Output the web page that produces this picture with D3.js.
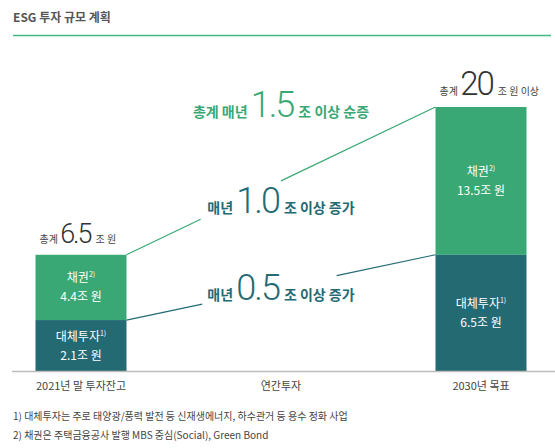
<!DOCTYPE html>
<html>
<head>
  <meta charset="utf-8">
  <script src="https://cdn.jsdelivr.net/npm/d3@7"></script>
  <style type="text/css">
    body { margin: 0; background: #fff; }
    svg text { font-family: "Noto Sans CJK KR", "Noto Sans", sans-serif; }
    .num { font-family: Roboto, "Noto Sans", sans-serif; font-weight: 300; letter-spacing: -2px; }
  </style>
</head>
<body>
  <div id="chartArea"></div>
  <script type="text/javascript">
    // categories and values
    let periods = ['2021년 말 투자잔고', '연간투자', '2030년 목표'];
    let barPeriods = ['2021년 말 투자잔고', '2030년 목표'];
    let altValues = [2.1, 6.5];     // 대체투자
    let bondValues = [4.4, 13.5];   // 채권
    let totals = ['6.5', '20'];
    let totalUnits = ['조 원', '조 원 이상'];
    let annualTotal = '1.5';
    let annualBond = '1.0';
    let annualAlt = '0.5';
    let footnotes = [
      '1) 대체투자는 주로 태양광/풍력 발전 등 신재생에너지, 하수관거 등 용수 정화 사업',
      '2) 채권은 주택금융공사 발행 MBS 중심(Social), Green Bond'
    ];

    let green = '#3aa874';
    let teal = '#246a73';

    let W = 555, H = 448;
    let svg = d3.select('#chartArea').append('svg')
      .attr('width', W)
      .attr('height', H);

    // title
    svg.append('text')
      .attr('x', 13).attr('y', 22)
      .attr('font-size', 12).attr('font-weight', 700)
      .attr('fill', '#555')
      .text('ESG 투자 규모 계획');
    svg.append('line')
      .attr('x1', 13).attr('x2', 551)
      .attr('y1', 35.5).attr('y2', 35.5)
      .attr('stroke', '#3dbb80').attr('stroke-width', 1.6);

    let x = d3.scalePoint()
      .domain(periods)
      .range([81, 481]);

    // bars in the source are not to linear scale
    let y = d3.scalePow().exponent(0.73)
      .domain([0, 20])
      .range([371, 107]);

    let barW = 91;

    let stacks = barPeriods.map((p, i) => {
      return {
        period: p,
        alt: altValues[i],
        bond: bondValues[i],
        total: totals[i],
        unit: totalUnits[i]
      };
    });

    // bond (top) segments
    svg.selectAll('.bond')
      .data(stacks)
      .enter()
      .append('rect')
      .attr('class', 'bond')
      .attr('x', d => x(d.period) - barW / 2)
      .attr('width', barW)
      .attr('y', d => y(d.alt + d.bond))
      .attr('height', d => y(d.alt) - y(d.alt + d.bond))
      .attr('fill', green);

    // alternative investment (bottom) segments
    svg.selectAll('.alt')
      .data(stacks)
      .enter()
      .append('rect')
      .attr('class', 'alt')
      .attr('x', d => x(d.period) - barW / 2)
      .attr('width', barW)
      .attr('y', d => y(d.alt))
      .attr('height', d => y(0) - y(d.alt))
      .attr('fill', teal);

    // baseline
    svg.append('line')
      .attr('x1', 12).attr('x2', W)
      .attr('y1', y(0) + 0.5).attr('y2', y(0) + 0.5)
      .attr('stroke', '#bdbdbd').attr('stroke-width', 1.5);

    // segment labels
    function segLabel(g, name, val, cy) {
      let t = g.append('text')
        .attr('text-anchor', 'middle')
        .attr('fill', '#fff')
        .attr('font-size', 12);
      t.append('tspan').attr('x', 0).attr('y', cy - 5).text(name[0])
        .append('tspan').attr('dy', -5).attr('font-size', 7).text(name[1]);
      t.append('tspan').attr('x', 0).attr('y', cy + 14).text(val + '조 원');
    }
    stacks.forEach(d => {
      let g = svg.append('g').attr('transform', `translate(${x(d.period)},0)`);
      segLabel(g, ['채권', '2)'], d.bond, (y(d.alt + d.bond) + y(d.alt)) / 2);
      segLabel(g, ['대체투자', '1)'], d.alt, (y(d.alt) + y(0)) / 2);
    });

    // totals above bars
    let big = [27, 33];
    stacks.forEach((d, i) => {
      let t = svg.append('text')
        .attr('x', x(d.period) - barW / 2 + 4)
        .attr('y', y(d.alt + d.bond) - 12)
        .attr('fill', '#444');
      t.append('tspan').attr('font-size', 10).text('총계 ');
      t.append('tspan').attr('class', 'num').attr('font-size', big[i])
        .attr('fill', '#333').text(d.total);
      t.append('tspan').attr('font-size', 10).attr('dx', 5).text(d.unit.replace(' ', '  '));
    });

    // x labels
    svg.selectAll('.xlab')
      .data(periods)
      .enter()
      .append('text')
      .attr('class', 'xlab')
      .attr('x', d => x(d))
      .attr('y', 390)
      .attr('text-anchor', 'middle')
      .attr('font-size', 11)
      .attr('fill', '#444')
      .text(d => d);

    // connector lines (with gaps for annotations)
    function connector(v0, v1, gaps, color) {
      let x0 = x(barPeriods[0]) + barW / 2, y0 = y(v0);
      let x1 = x(barPeriods[1]) - barW / 2, y1 = y(v1);
      let pt = t => [x0 + (x1 - x0) * t, y0 + (y1 - y0) * t];
      let pieces = [[0, gaps[0]], [gaps[1], 1]];
      svg.selectAll(null)
        .data(pieces)
        .enter()
        .append('line')
        .attr('x1', d => pt(d[0])[0]).attr('y1', d => pt(d[0])[1])
        .attr('x2', d => pt(d[1])[0]).attr('y2', d => pt(d[1])[1])
        .attr('stroke', color).attr('stroke-width', 1.2);
    }
    connector(altValues[0] + bondValues[0], altValues[1] + bondValues[1], [0.24, 0.50], green);
    connector(altValues[0], altValues[1], [0.245, 0.68], teal);

    // annual annotations
    function annot(pre, num, post, cy, color) {
      let t = svg.append('text')
        .attr('x', x(periods[1]))
        .attr('y', cy)
        .attr('text-anchor', 'middle')
        .attr('fill', color)
        .attr('font-size', 14)
        .attr('font-weight', 700);
      t.append('tspan').text(pre + ' ');
      t.append('tspan').attr('class', 'num').attr('font-size', 36).text(num);
      t.append('tspan').attr('dx', 5).text(post);
    }
    annot('총계 매년', annualTotal, '조 이상 순증', 117, green);
    annot('매년', annualBond, '조 이상 증가', 213, teal);
    annot('매년', annualAlt, '조 이상 증가', 300, teal);

    // footnotes
    svg.selectAll('.foot')
      .data(footnotes)
      .enter()
      .append('text')
      .attr('class', 'foot')
      .attr('x', 13)
      .attr('y', (d, i) => 420 + i * 19)
      .attr('font-size', 10)
      .attr('fill', '#444')
      .text(d => d);
  </script>
</body>
</html>
